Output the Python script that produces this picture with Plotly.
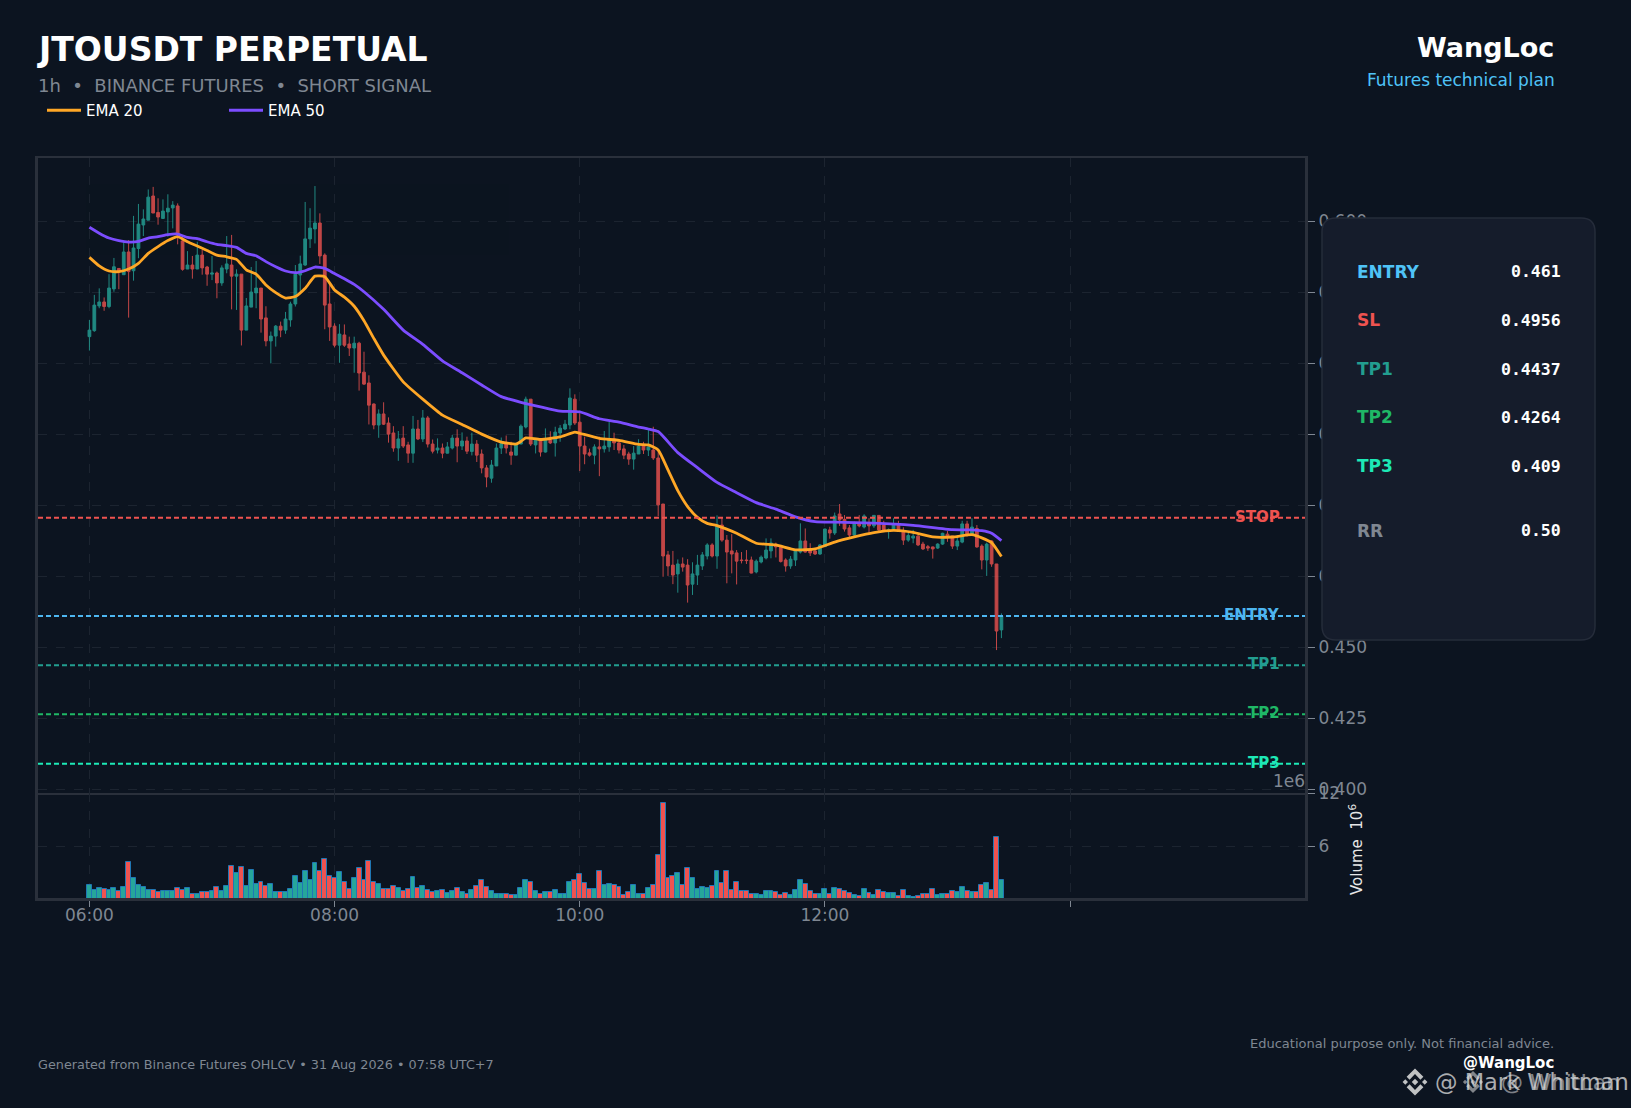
import pandas as pd
import plotly.graph_objects as go
from plotly.subplots import make_subplots

W, H = 1631, 1108
BG = "#0c1420"
GRID = "#1c2430"
BORDER = "#2a303b"
GRAY = "#7f8792"
UP = "#26a69a"
DOWN = "#ef5350"

open_ = [
    .5593, .5614, .5701, .5715, .5699, .5761, .5833, .5811, .5891, .5825,
    .5903, .5986, .6003, .6088, .6030, .6009, .6032, .6046, .6053, .5930,
    .5831, .5845, .5831, .5880, .5838, .5813, .5817, .5782, .5831, .5845,
    .5806, .5813, .5616, .5697, .5747, .5764, .5659, .5578, .5595, .5630,
    .5616, .5652, .5708, .5810, .5845, .5937, .5972, .5993, .5880, .5708,
    .5630, .5563, .5599, .5567, .5553, .5570, .5468, .5430, .5356, .5282,
    .5321, .5289, .5254, .5201, .5236, .5212, .5183, .5268, .5233, .5307,
    .5215, .5194, .5201, .5183, .5201, .5236, .5208, .5226, .5189, .5215,
    .5180, .5131, .5095, .5138, .5201, .5215, .5187, .5176, .5215, .5275,
    .5373, .5212, .5229, .5187, .5229, .5219, .5254, .5268, .5282, .5373,
    .5292, .5208, .5184, .5176, .5205, .5198, .5205, .5233, .5219, .5198,
    .5180, .5162, .5180, .5208, .5194, .5194, .5166, .5004, .4825, .4789,
    .4758, .4793, .4789, .4722, .4754, .4786, .4821, .4860, .4821, .4930,
    .4877, .4839, .4832, .4807, .4807, .4807, .4765, .4800, .4814, .4839,
    .4860, .4853, .4807, .4786, .4807, .4835, .4874, .4842, .4839, .4828,
    .4854, .4913, .4902, .4969, .4950, .4920, .4895, .4934, .4923, .4934,
    .4927, .4964, .4930, .4912, .4916, .4934, .4909, .4877, .4884, .4891,
    .4863, .4854, .4853, .4849, .4863, .4898, .4891, .4856, .4870, .4934,
    .4898, .4918, .4856, .4807, .4874, .4793, .4561,
]
high = [
    .5652, .5740, .5763, .5731, .5813, .5870, .5833, .5927, .5933, .6018,
    .6060, .6041, .6111, .6120, .6080, .6076, .6094, .6070, .6062, .5945,
    .5894, .5877, .5927, .5898, .5842, .5877, .5822, .5844, .5947, .5951,
    .5830, .5813, .5729, .5838, .5859, .5764, .5700, .5611, .5634, .5646,
    .5680, .5716, .5845, .5878, .6067, .6045, .6123, .6027, .5886, .5779,
    .5640, .5637, .5636, .5593, .5593, .5575, .5540, .5457, .5358, .5337,
    .5362, .5309, .5278, .5261, .5278, .5223, .5314, .5300, .5335, .5314,
    .5231, .5235, .5217, .5222, .5247, .5267, .5256, .5241, .5255, .5229,
    .5196, .5141, .5159, .5217, .5238, .5245, .5223, .5220, .5284, .5382,
    .5373, .5235, .5235, .5270, .5260, .5276, .5282, .5300, .5411, .5390,
    .5323, .5241, .5199, .5214, .5241, .5261, .5294, .5255, .5229, .5212,
    .5188, .5208, .5232, .5223, .5268, .5276, .5194, .5004, .4839, .4839,
    .4809, .4816, .4810, .4799, .4825, .4835, .4866, .4866, .4964, .4957,
    .4895, .4898, .4842, .4835, .4842, .4819, .4809, .4823, .4883, .4883,
    .4868, .4854, .4813, .4821, .4842, .4936, .4918, .4866, .4845, .4863,
    .4917, .4924, .4974, .5004, .4965, .4930, .4942, .4965, .4968, .4954,
    .4965, .4965, .4945, .4918, .4954, .4945, .4922, .4907, .4913, .4895,
    .4871, .4860, .4854, .4866, .4903, .4909, .4891, .4895, .4945, .4945,
    .4954, .4930, .4862, .4868, .4877, .4793, .4619,
]
low = [
    .5544, .5610, .5693, .5684, .5693, .5751, .5760, .5811, .5660, .5790,
    .5869, .5947, .6003, .6028, .5987, .6007, .5945, .5974, .5918, .5825,
    .5831, .5797, .5831, .5811, .5772, .5792, .5728, .5772, .5816, .5689,
    .5687, .5562, .5616, .5697, .5693, .5607, .5559, .5499, .5558, .5591,
    .5603, .5628, .5699, .5751, .5842, .5905, .5921, .5849, .5619, .5578,
    .5555, .5501, .5557, .5525, .5466, .5403, .5423, .5284, .5267, .5237,
    .5282, .5220, .5188, .5156, .5201, .5149, .5149, .5229, .5222, .5203,
    .5182, .5182, .5165, .5182, .5196, .5151, .5194, .5180, .5175, .5152,
    .5112, .5063, .5079, .5138, .5180, .5182, .5142, .5176, .5215, .5270,
    .5208, .5182, .5171, .5185, .5215, .5171, .5223, .5264, .5267, .5282,
    .5120, .5144, .5171, .5144, .5102, .5185, .5188, .5194, .5182, .5162,
    .5142, .5125, .5180, .5180, .5173, .5159, .4961, .4748, .4751, .4722,
    .4692, .4766, .4657, .4684, .4719, .4772, .4809, .4816, .4776, .4871,
    .4725, .4760, .4721, .4795, .4793, .4760, .4760, .4795, .4809, .4813,
    .4816, .4798, .4766, .4776, .4786, .4830, .4833, .4821, .4825, .4825,
    .4854, .4882, .4895, .4927, .4907, .4887, .4891, .4922, .4918, .4903,
    .4920, .4907, .4910, .4882, .4913, .4910, .4860, .4871, .4866, .4856,
    .4842, .4839, .4812, .4846, .4860, .4871, .4846, .4842, .4866, .4889,
    .4895, .4850, .4774, .4751, .4783, .4490, .4532,
]
close = [
    .5616, .5704, .5715, .5699, .5764, .5839, .5822, .5891, .5822, .5905,
    .5989, .6007, .6084, .6028, .6014, .6035, .6045, .6056, .5951, .5830,
    .5845, .5831, .5880, .5835, .5813, .5817, .5782, .5835, .5849, .5806,
    .5813, .5616, .5701, .5750, .5764, .5655, .5578, .5595, .5630, .5616,
    .5655, .5708, .5813, .5849, .5937, .5975, .5993, .5877, .5704, .5627,
    .5563, .5602, .5563, .5553, .5570, .5465, .5426, .5352, .5282, .5321,
    .5285, .5250, .5201, .5233, .5208, .5183, .5268, .5233, .5307, .5215,
    .5190, .5201, .5183, .5205, .5236, .5208, .5226, .5190, .5215, .5176,
    .5131, .5099, .5141, .5201, .5217, .5201, .5176, .5215, .5278, .5373,
    .5215, .5229, .5187, .5229, .5219, .5257, .5271, .5285, .5377, .5289,
    .5208, .5180, .5176, .5205, .5198, .5208, .5233, .5219, .5194, .5176,
    .5162, .5183, .5208, .5194, .5205, .5166, .5001, .4821, .4786, .4754,
    .4793, .4782, .4719, .4758, .4789, .4825, .4860, .4821, .4930, .4877,
    .4835, .4828, .4803, .4805, .4805, .4761, .4803, .4817, .4842, .4867,
    .4853, .4802, .4786, .4810, .4839, .4874, .4835, .4832, .4828, .4860,
    .4916, .4902, .4962, .4948, .4916, .4895, .4934, .4927, .4962, .4927,
    .4964, .4913, .4913, .4913, .4934, .4913, .4877, .4893, .4891, .4860,
    .4846, .4849, .4846, .4863, .4901, .4888, .4856, .4874, .4934, .4895,
    .4923, .4853, .4807, .4863, .4793, .4557, .4610,
]
volume = [
    1.63, 1.15, 1.30, 1.19, 1.07, 1.30, .96, 1.41, 4.30, 2.41,
    1.63, 1.41, 1.07, 1.07, .89, .96, .96, .96, 1.30, 1.07,
    1.30, .70, .70, .85, .85, .96, 1.41, .96, 1.52, 3.85,
    3.07, 3.74, 1.52, 3.41, 1.74, 2.07, 1.52, 1.74, .85, .85,
    .85, 1.19, 2.74, 1.85, 3.30, 2.19, 4.19, 3.30, 4.63, 2.74,
    2.41, 3.19, 2.07, 1.19, 2.41, 3.63, 2.19, 4.41, 2.07, 1.74,
    1.19, 1.19, 1.52, 1.30, .96, 1.19, 2.63, 1.30, 1.52, 1.07,
    .93, .96, 1.07, .74, .96, 1.30, .85, .70, 1.07, 1.52,
    2.19, 1.41, .96, .70, .70, .70, .59, .59, 1.30, 2.19,
    1.96, .96, .70, .85, .85, 1.07, .70, .70, 1.96, 2.19,
    2.96, 1.85, 1.19, 1.19, 3.30, 1.63, 1.74, 1.63, 1.41, .59,
    .85, 1.63, .70, .70, 1.30, 1.63, 5.07, 10.85, 2.41, 2.74,
    3.07, 1.63, 3.63, 2.52, 1.19, 1.41, 1.30, 1.52, 3.30, 1.85,
    3.30, 1.07, 1.96, .96, .96, .70, .70, .52, .96, .96,
    .85, .59, .74, .59, 1.07, 2.19, 1.81, .96, .70, .70,
    1.19, .70, 1.30, 1.19, .96, .74, .52, .48, 1.19, .74,
    .52, 1.07, .85, .74, .74, .48, 1.07, .48, .37, .48,
    .70, .70, 1.19, .59, .70, .70, .96, .85, 1.41, .96,
    .85, .85, 1.63, 1.85, 1.07, 7.07, 2.19,
]

ema20_at = [
    0, 2, 4, 6, 8, 10, 12, 14, 16, 18, 20, 22, 24, 26, 28, 30, 32, 34, 36, 38, 40, 42, 44, 46, 48, 50, 52, 54,
    56, 58, 60, 64, 68, 72, 76, 80, 84, 87, 88, 89, 92, 96, 99, 100, 104, 108, 112, 114, 116, 118, 120, 122,
    124, 126, 128, 132, 136, 140, 144, 148, 152, 156, 160, 164, 168, 172, 176, 180, 182, 184, 186,
]
ema20 = [
    .5872, .5842, .5824, .5822, .5831, .5851, .5886, .5910, .5931, .5945, .5927, .5912, .5896, .5880, .5874,
    .5865, .5828, .5813, .5775, .5748, .5729, .5734, .5763, .5806, .5804, .5757, .5732, .5700,
    .5649, .5587, .5528, .5434, .5373, .5317, .5284, .5250, .5222, .5215, .5224, .5237, .5231, .5240, .5257,
    .5253, .5235, .5228, .5214, .5212, .5194, .5124, .5051, .4995,
    .4957, .4936, .4928, .4901, .4866, .4860, .4843, .4846, .4870, .4888, .4903, .4911, .4904, .4888, .4888,
    .4896, .4885, .4868, .4819,
]
ema50_at = [
    0, 2, 4, 6, 8, 10, 12, 14, 16, 18, 20, 22, 24, 26, 28, 30, 32, 34, 36, 38, 40, 42, 44, 46, 48, 50, 52, 54,
    56, 60, 64, 68, 72, 76, 80, 84, 88, 92, 96, 100, 104, 108, 112, 114, 116, 120, 124, 128, 132, 136, 140,
    144, 148, 152, 160, 168, 176, 180, 182, 184, 186,
]
ema50 = [
    .5978, .5957, .5940, .5931, .5926, .5928, .5940, .5945, .5952, .5954, .5942, .5938, .5927, .5918, .5913,
    .5907, .5886, .5878, .5857, .5839, .5824, .5818, .5825, .5838, .5833, .5815, .5797, .5777,
    .5751, .5689, .5616, .5566, .5508, .5466, .5423, .5382, .5362, .5346, .5331, .5328, .5304, .5292, .5275,
    .5268, .5259, .5185, .5132, .5080, .5044, .5009, .4986,
    .4959, .4942, .4940, .4937, .4929, .4914, .4913, .4910, .4901, .4875,
]

level_names = ["STOP", "ENTRY", "TP1", "TP2", "TP3"]
level_values = [0.4956, 0.461, 0.4437, 0.4264, 0.409]
level_colors = ["#ef5350", "#4db6f0", "#229e90", "#1fb866", "#1de9b6"]

panel_names = ["ENTRY", "SL", "TP1", "TP2", "TP3", "RR"]
panel_values = ["0.461", "0.4956", "0.4437", "0.4264", "0.409", "0.50"]
panel_colors = ["#4fc3f7", "#ef5350", "#229e90", "#1fb866", "#1de9b6", "#7f8792"]
panel_rows = [272, 320, 369, 417, 466, 531]

price_ticks = [0.400, 0.425, 0.450, 0.475, 0.500, 0.525, 0.550, 0.575, 0.600]
volume_ticks = [6, 12]
time_ticks = ["2026-08-31 06:00", "2026-08-31 08:00", "2026-08-31 10:00", "2026-08-31 12:00", "2026-08-31 14:00"]
time_labels = ["06:00", "08:00", "10:00", "12:00", ""]

times = pd.date_range("2026-08-31 06:00", periods=len(close), freq="144s")


def px(x):
    return x / W


def py(y):
    return 1 - y / H


fig = make_subplots(rows=2, cols=1, shared_xaxes=True, vertical_spacing=0)

fig.add_trace(go.Candlestick(
    x=times, open=open_, high=high, low=low, close=close,
    increasing=dict(line=dict(color=UP, width=1), fillcolor=UP),
    decreasing=dict(line=dict(color=DOWN, width=1), fillcolor=DOWN),
    opacity=0.8, whiskerwidth=0, showlegend=False,
), row=1, col=1)
fig.add_trace(go.Scatter(
    x=times[ema20_at], y=ema20, mode="lines", name="EMA 20",
    line=dict(color="#ffa726", width=2.8, shape="spline", smoothing=0.5),
), row=1, col=1)
fig.add_trace(go.Scatter(
    x=times[ema50_at], y=ema50, mode="lines", name="EMA 50",
    line=dict(color="#7c4dff", width=2.8, shape="spline", smoothing=0.5),
), row=1, col=1)

bar_colors = [UP if c >= o else DOWN for o, c in zip(open_, close)]
fig.add_trace(go.Bar(
    x=times, y=volume, marker=dict(color=bar_colors, line=dict(color="#1f77b4", width=1)),
    showlegend=False,
), row=2, col=1)

for name, value, color in zip(level_names, level_values, level_colors):
    fig.add_hline(y=value, row=1, col=1, line=dict(color=color, width=2, dash="5px,3px"))
    fig.add_annotation(
        text=f"<b>{name}</b>", xref="paper", x=px(1282), yref="y", y=value + 0.0003, xanchor="right",
        yanchor="middle", showarrow=False, font=dict(size=15, color=color, family="DejaVu Sans"),
    )


def note(text, x, y, size, color, anchor="left", family="DejaVu Sans", angle=0):
    fig.add_annotation(
        text=text, xref="paper", yref="paper", x=px(x), y=py(y), xanchor=anchor, yanchor="middle",
        showarrow=False, textangle=angle, font=dict(size=size, color=color, family=family),
    )


note("<b>JTOUSDT PERPETUAL</b>", 35, 50, 33, "#ffffff")
note("1h  •  BINANCE FUTURES  •  SHORT SIGNAL", 36, 86, 18, GRAY)
note("<b>WangLoc</b>", 1556, 47, 27, "#ffffff", "right")
note("Futures technical plan", 1557, 80, 17, "#4fc3f7", "right")
note("1e6", 1307, 781, 17, GRAY, "right")
note("Volume  10<sup>6</sup>", 1356, 850, 15, "#e6e6e6", "center", angle=-90)
note("Generated from Binance Futures OHLCV • 31 Aug 2026 • 07:58 UTC+7", 36, 1064, 12.8, GRAY)
note("Educational purpose only. Not financial advice.", 1556, 1043, 13, GRAY, "right")
note("<b>@WangLoc</b>", 1556, 1063, 15, "#ffffff", "right")
note("@ Mark Whitman", 1433, 1082, 22.5, "rgba(225,225,225,0.75)")
note("@ WhitLan", 1622, 1082, 22, "rgba(225,225,225,0.55)", "right")

for name, value, color, row_y in zip(panel_names, panel_values, panel_colors, panel_rows):
    note(f"<b>{name}</b>", 1355, row_y, 17, color)
    note(f"<b>{value}</b>", 1563, row_y, 16.5, "#ffffff", "right", "DejaVu Sans Mono")


def panel_path(x0, y0, x1, y1, r):
    pts = [
        f"M {px(x0 + r)} {py(y0)}", f"L {px(x1 - r)} {py(y0)}", f"Q {px(x1)} {py(y0)} {px(x1)} {py(y0 + r)}",
        f"L {px(x1)} {py(y1 - r)}", f"Q {px(x1)} {py(y1)} {px(x1 - r)} {py(y1)}",
        f"L {px(x0 + r)} {py(y1)}", f"Q {px(x0)} {py(y1)} {px(x0)} {py(y1 - r)}",
        f"L {px(x0)} {py(y0 + r)}", f"Q {px(x0)} {py(y0)} {px(x0 + r)} {py(y0)}", "Z",
    ]
    return " ".join(pts)


fig.add_shape(type="path", xref="paper", yref="paper", layer="above",
              path=panel_path(1322, 218, 1595, 640, 14), fillcolor="#151c2b", line=dict(color="#252c3a", width=1.5))


def binance_logo(cx, cy, s, color):
    # centre and side diamonds plus the two chevrons
    for dx, dy, r in [(0, 0, 0.24), (-0.72, 0, 0.2), (0.72, 0, 0.2)]:
        x, y, d = cx + dx * s, cy + dy * s, r * s
        path = f"M {px(x - d)} {py(y)} L {px(x)} {py(y - d)} L {px(x + d)} {py(y)} L {px(x)} {py(y + d)} Z"
        fig.add_shape(type="path", xref="paper", yref="paper", layer="above", path=path,
                      fillcolor=color, line=dict(width=0))
    for sign in [-1, 1]:
        a = cy + sign * s
        c = cy + sign * 0.6 * s
        path = (f"M {px(cx)} {py(a)} L {px(cx + 0.62 * s)} {py(a - sign * 0.62 * s)} L {px(cx + 0.4 * s)} {py(a - sign * 0.84 * s)} "
                f"L {px(cx)} {py(c)} L {px(cx - 0.4 * s)} {py(a - sign * 0.84 * s)} L {px(cx - 0.62 * s)} {py(a - sign * 0.62 * s)} Z")
        fig.add_shape(type="path", xref="paper", yref="paper", layer="above", path=path,
                      fillcolor=color, line=dict(width=0))


binance_logo(1415, 1082, 13.5, "rgba(225,225,225,0.85)")
binance_logo(1473, 1082, 11, "rgba(225,225,225,0.55)")

axis_font = dict(size=17, color=GRAY, family="DejaVu Sans")
common_y = dict(
    side="right", showgrid=True, griddash="dash", gridcolor=GRID, gridwidth=1, zeroline=False,
    showline=True, mirror=True, linecolor=BORDER, linewidth=3,
    ticks="outside", ticklen=7, tickcolor=GRAY, tickfont=axis_font,
)
common_x = dict(
    showgrid=True, griddash="dash", gridcolor=GRID, gridwidth=1, zeroline=False,
    showline=True, linecolor=BORDER, linewidth=3,
    tickvals=time_ticks, ticktext=time_labels,
    range=["2026-08-31 05:34:50", "2026-08-31 15:55:00"], rangeslider_visible=False,
)
fig.update_xaxes(**common_x, domain=[px(38), px(1305)])
fig.update_xaxes(row=1, col=1, showticklabels=False, ticks="", mirror=True, linewidth=2)
fig.update_xaxes(row=2, col=1, ticks="outside", ticklen=6, tickcolor=GRAY, tickfont=axis_font,
                 ticklabelstandoff=-6)
fig.update_yaxes(**common_y)
fig.update_yaxes(row=1, col=1, domain=[py(792.5), py(158)], range=[0.39888, 0.62217],
                 tickvals=price_ticks, tickformat=".3f")
fig.update_yaxes(row=2, col=1, domain=[py(898), py(793)], range=[0.22, 12], tickvals=volume_ticks)

fig.update_layout(
    width=W, height=H, paper_bgcolor=BG, plot_bgcolor=BG,
    margin=dict(l=0, r=0, t=0, b=0, autoexpand=False),
    font=dict(family="DejaVu Sans", color="#ffffff"),
    bargap=0,
    boxgap=0.2,
    legend=dict(
        orientation="h", x=px(42), y=py(94), xanchor="left", yanchor="top",
        entrywidth=133, entrywidthmode="pixels", itemwidth=34, bgcolor="rgba(0,0,0,0)",
        font=dict(size=15, color="#ffffff", family="DejaVu Sans"),
    ),
)

fig.write_html("out.html", config={"displayModeBar": False},
               post_script=f"document.body.style.margin='0';document.body.style.background='{BG}';")
